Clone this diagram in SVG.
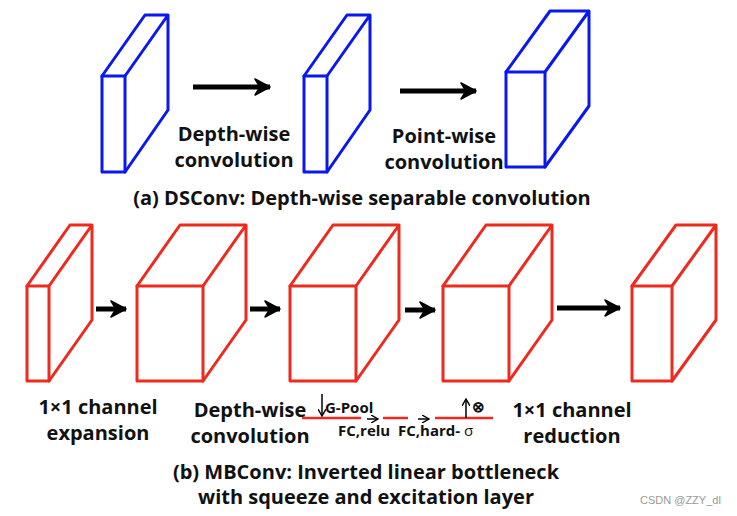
<svg xmlns="http://www.w3.org/2000/svg" width="737" height="516" viewBox="0 0 737 516">
<defs>
<marker id="ah" markerWidth="22" markerHeight="20" refX="19" refY="10" orient="auto" markerUnits="userSpaceOnUse"><path d="M4,2 L19,10 L4,18 L9,10 Z" fill="#000" stroke="#000" stroke-width="1.5" stroke-linejoin="round"/></marker>
<marker id="as" markerWidth="8" markerHeight="8" refX="7" refY="4" orient="auto" markerUnits="userSpaceOnUse"><path d="M0,0 L7,4 L0,8" fill="none" stroke="#000" stroke-width="1.4"/></marker>
</defs>
<style>
.b{fill:#fff;stroke:#0a18f0;stroke-width:3;stroke-linejoin:round}
.r{fill:#fff;stroke:#ee2a1e;stroke-width:3;stroke-linejoin:round}
.t{font-family:"Open Sans","Liberation Sans",sans-serif;font-weight:bold;font-size:20px;fill:#111;text-anchor:middle}
.s{font-family:"Open Sans","Liberation Sans",sans-serif;font-weight:bold;font-size:15px;fill:#111}
.a{stroke:#000;stroke-width:5;fill:none}
</style>
<rect width="737" height="516" fill="#fff"/>
<g id="blue1"><path class="b" d="M102,76 L145,15 L168,15 L168,110 L125,172 Z M125,76 L168,15"/><rect class="b" x="102" y="76" width="23" height="96"/></g>
<g id="blue2"><path class="b" d="M304,76 L347,15 L370,15 L370,110 L327,172 Z M327,76 L370,15"/><rect class="b" x="304" y="76" width="23" height="96"/></g>
<g id="blue3"><path class="b" d="M506,72 L550,11 L589,11 L589,106 L545,167 Z M545,72 L589,11"/><rect class="b" x="506" y="72" width="39" height="95"/></g>
<g id="red1"><path class="r" d="M27,286 L70,225 L92,225 L92,320 L49,381 Z M49,286 L92,225"/><rect class="r" x="27" y="286" width="22" height="95"/></g>
<g id="red2"><path class="r" d="M137,286 L180,225 L246,225 L246,320 L203,381 Z M203,286 L246,225"/><rect class="r" x="137" y="286" width="66" height="95"/></g>
<g id="red3"><path class="r" d="M290,286 L333,225 L399,225 L399,320 L356,381 Z M356,286 L399,225"/><rect class="r" x="290" y="286" width="66" height="95"/></g>
<g id="red4"><path class="r" d="M443,286 L486,225 L552,225 L552,320 L509,381 Z M509,286 L552,225"/><rect class="r" x="443" y="286" width="66" height="95"/></g>
<g id="red5"><path class="r" d="M632,286 L676,225 L716,225 L716,320 L672,381 Z M672,286 L716,225"/><rect class="r" x="632" y="286" width="40" height="95"/></g>
<g id="connectors">
<line class="a" x1="193" y1="87" x2="270" y2="87" marker-end="url(#ah)"/>
<line class="a" x1="400" y1="91" x2="476" y2="91" marker-end="url(#ah)"/>
<line class="a" x1="96" y1="309" x2="126" y2="309" marker-end="url(#ah)"/>
<line class="a" x1="250" y1="309" x2="280" y2="309" marker-end="url(#ah)"/>
<line class="a" x1="405" y1="310" x2="435" y2="310" marker-end="url(#ah)"/>
<line class="a" x1="557" y1="308" x2="620" y2="308" marker-end="url(#ah)"/>
</g>
<g id="se">
<g stroke="#ee2a1e" stroke-width="2.5"><line x1="302" y1="418" x2="361" y2="418"/><line x1="383" y1="418" x2="408" y2="418"/><line x1="435" y1="418" x2="493" y2="418"/></g>
<g stroke="#000" stroke-width="1.5" fill="none">
<line x1="322" y1="394" x2="322" y2="416" marker-end="url(#as)"/>
<line x1="466" y1="418" x2="466" y2="399" marker-end="url(#as)"/>
<line x1="367" y1="419" x2="378" y2="419" marker-end="url(#as)"/>
<line x1="418" y1="419" x2="429" y2="419" marker-end="url(#as)"/>
</g>
<text class="s" x="325" y="413">G-Pool</text>
<text class="s" x="472" y="412">⊗</text>
<text class="s" x="338" y="436">FC,relu</text>
<text class="s" x="398" y="436">FC,hard- <tspan font-weight="normal">σ</tspan></text>
</g>
<g id="labels">
<text class="t" x="234" y="141">Depth-wise</text>
<text class="t" x="234" y="167">convolution</text>
<text class="t" x="444" y="143">Point-wise</text>
<text class="t" x="444" y="169">convolution</text>
<text class="t" x="362" y="205">(a) DSConv: Depth-wise separable convolution</text>
<text class="t" x="98" y="414">1×1 channel</text>
<text class="t" x="98" y="440">expansion</text>
<text class="t" x="250" y="417">Depth-wise</text>
<text class="t" x="250" y="443">convolution</text>
<text class="t" x="572" y="417">1×1 channel</text>
<text class="t" x="572" y="443">reduction</text>
<text class="t" x="366" y="479">(b) MBConv: Inverted linear bottleneck</text>
<text class="t" x="366" y="504">with squeeze and excitation layer</text>
<text x="640" y="504" font-family="Liberation Sans,sans-serif" font-size="11" fill="#999">CSDN @ZZY_dl</text>
</g>
</svg>
